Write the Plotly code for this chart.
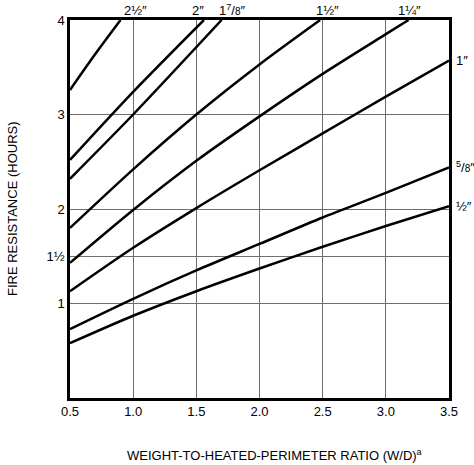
import plotly.graph_objects as go

FONT = "Liberation Sans, Arial, sans-serif"

# curves: W/D ratio -> fire resistance (hours)
x_2_1_2 = [0.5, 0.7, 0.9]
y_2_1_2 = [3.26, 3.64, 4.0]
x_2 = [0.5, 1.0, 1.56]
y_2 = [2.52, 3.24, 4.0]
x_1_7_8 = [0.5, 1.0, 1.7]
y_1_7_8 = [2.32, 3.0, 4.0]
x_1_1_2 = [0.5, 1.0, 1.5, 2.0, 2.48]
y_1_1_2 = [1.80, 2.42, 3.0, 3.53, 4.0]
x_1_1_4 = [0.5, 1.0, 1.5, 2.0, 2.5, 3.0, 3.18]
y_1_1_4 = [1.43, 1.99, 2.51, 2.98, 3.43, 3.85, 4.0]
x_full = [0.5, 1.0, 1.5, 2.0, 2.5, 3.0, 3.5]
y_1 = [1.13, 1.59, 2.01, 2.41, 2.80, 3.19, 3.57]
y_5_8 = [0.73, 1.05, 1.35, 1.63, 1.91, 2.17, 2.44]
y_1_2 = [0.58, 0.87, 1.13, 1.37, 1.60, 1.82, 2.03]

x_ticks = [0.5, 1.0, 1.5, 2.0, 2.5, 3.0, 3.5]
x_ticktext = ["0.5", "1.0", "1.5", "2.0", "2.5", "3.0", "3.5"]
y_ticks = [1, 1.5, 2, 3, 4]
y_ticktext = ["1", "1½", "2", "3", "4"]

EIGHTH = "<span style='font-size:10px'>8</span>"
top_labels = ["2½″", "2″", "1<sup>7</sup>/" + EIGHTH + "″", "1½″", "1¼″"]
top_label_x = [1.015, 1.513, 1.783, 2.535, 3.184]
right_labels = ["1″", "<sup>5</sup>/" + EIGHTH + "″", "½″"]

curves = [
    (x_2_1_2, y_2_1_2), (x_2, y_2), (x_1_7_8, y_1_7_8),
    (x_1_1_2, y_1_1_2), (x_1_1_4, y_1_1_4),
    (x_full, y_1), (x_full, y_5_8), (x_full, y_1_2),
]

fig = go.Figure()
for xs, ys in curves:
    fig.add_trace(go.Scatter(
        x=xs, y=ys, mode="lines",
        line=dict(color="black", width=2.5, shape="spline", smoothing=0.8),
        showlegend=False, hoverinfo="skip",
    ))

for txt, xv in zip(top_labels, top_label_x):
    fig.add_annotation(x=xv, y=4, xref="x", yref="y", text=txt, showarrow=False,
                       xanchor="center", yanchor="bottom",
                       font=dict(size=13, color="black", family=FONT))

for txt, ys in zip(right_labels, [y_1, y_5_8, y_1_2]):
    fig.add_annotation(x=x_full[-1], y=ys[-1], xref="x", yref="y", text=txt,
                       showarrow=False, xanchor="left", yanchor="middle", xshift=5,
                       font=dict(size=13, color="black", family=FONT))

fig.add_annotation(x=0.541, y=-0.151, xref="paper", yref="paper",
                   text="WEIGHT-TO-HEATED-PERIMETER RATIO (W/D)<sup>a</sup>",
                   showarrow=False, xanchor="center", yanchor="middle",
                   font=dict(size=13, color="black", family=FONT))
fig.add_annotation(x=-0.153, y=0.5, xref="paper", yref="paper",
                   text="FIRE RESISTANCE (HOURS)", textangle=-90,
                   showarrow=False, xanchor="center", yanchor="middle",
                   font=dict(size=13, color="black", family=FONT))

axis_common = dict(
    showline=True, linecolor="black", linewidth=2.5, mirror=True,
    showgrid=True, gridcolor="#6e6e6e", gridwidth=1.2,
    zeroline=False, ticks="", tickfont=dict(size=13, color="black", family=FONT),
    fixedrange=True,
)
fig.update_xaxes(range=[0.5, 3.5], tickvals=x_ticks, ticktext=x_ticktext, **axis_common)
fig.update_yaxes(range=[0, 4], tickvals=y_ticks, ticktext=y_ticktext, **axis_common)

fig.update_layout(
    width=474, height=465,
    margin=dict(l=70, r=25, t=20, b=67),
    paper_bgcolor="white", plot_bgcolor="white",
    font=dict(family=FONT, color="black"),
)

fig.write_html("out.html", config={"displayModeBar": False},
               post_script="document.body.style.margin='0';")
